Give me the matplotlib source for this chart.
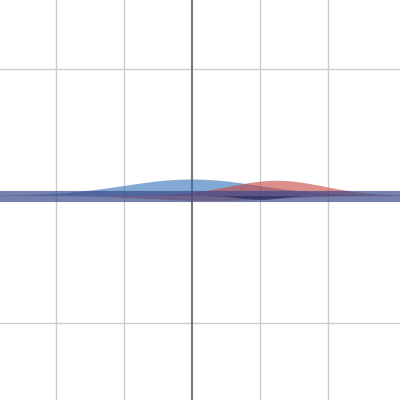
import numpy as np
import matplotlib
matplotlib.use("Agg")
import matplotlib.pyplot as plt

blue_mu, blue_sigma, blue_h = 0.0, 1.0, 0.13
red_mu, red_sigma, red_h = 1.25, 0.7, 0.12
low_mu, low_sigma, low_h = 0.3, 0.9, -0.04

fig = plt.figure(figsize=(4, 4), dpi=100)
ax = fig.add_axes([0, 0, 1, 1])
ax.set_xlim(-192/68, 208/68)
ax.set_ylim(-204/127, 196/127)
for x in [-2, -1, 1, 2]:
    ax.axvline(x, color='#cccccc', lw=1, zorder=0)
for y in [-1, 1]:
    ax.axhline(y, color='#cccccc', lw=1, zorder=0)
ax.axvline(0, color='#777777', lw=1.5, zorder=0)
ax.axis('off')

x = np.linspace(-3, 3.2, 600)
g = lambda mu, s, h: h*np.exp(-(x-mu)**2/(2*s*s))
ax.fill_between(x, 0, g(low_mu, low_sigma, low_h), color='#c0392b', alpha=0.5, lw=0)
ax.fill_between(x, 0, g(1.0, 0.3, -0.03), color='black', alpha=0.8, lw=0)
ax.fill_between(x, 0, g(blue_mu, blue_sigma, blue_h), color='#2d70b3', alpha=0.6, lw=0)
ax.fill_between(x, 0, g(red_mu, red_sigma, red_h), color='#c74440', alpha=0.6, lw=0)
ax.plot(x, 0*x, color='#3a4a8a', lw=8, alpha=0.7, solid_capstyle='butt')
fig.savefig("out.png")
